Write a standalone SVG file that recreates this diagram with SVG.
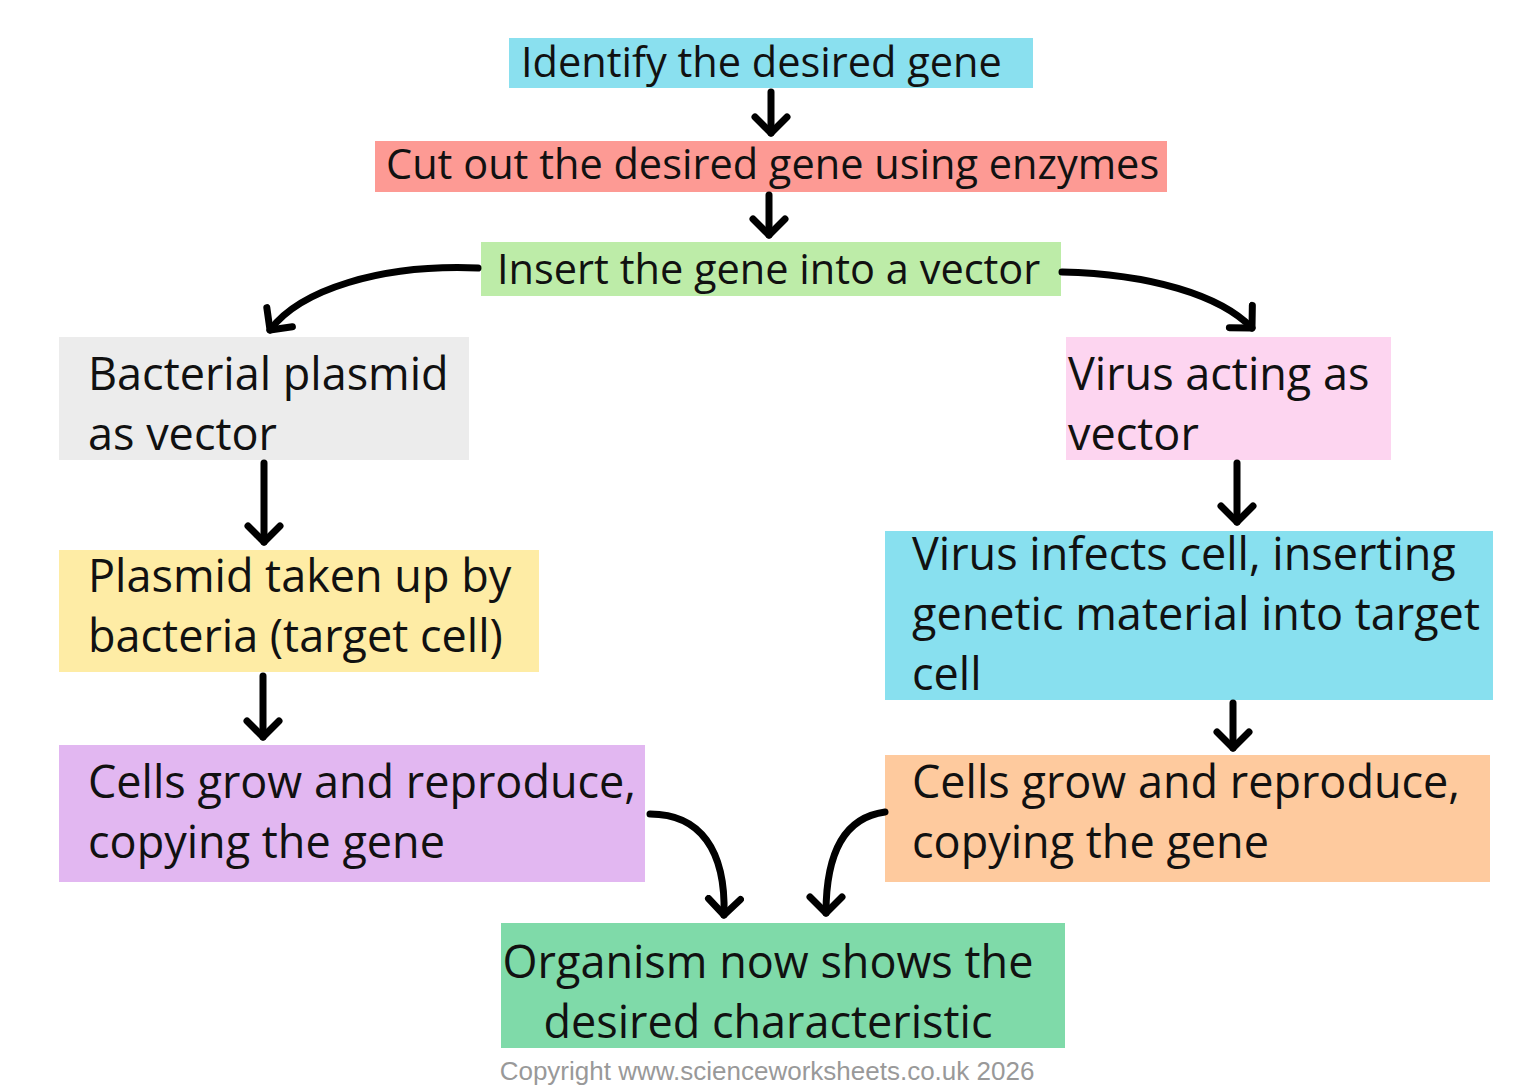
<svg xmlns="http://www.w3.org/2000/svg" width="1536" height="1086" viewBox="0 0 1536 1086">
<defs>
<style>
.t{font-family:"Open Sans","Noto Sans",sans-serif;font-size:41.5px;fill:#111}
.u{font-family:"Open Sans","Noto Sans",sans-serif;font-size:45px;fill:#111}
.c{fill:none;stroke:#000;stroke-width:7;stroke-linecap:round}
</style>
<marker id="a" markerUnits="userSpaceOnUse" markerWidth="40" markerHeight="40" refX="20" refY="20" orient="auto" viewBox="0 0 40 40">
<path d="M4,4 L20,20 L4,36" fill="none" stroke="#000" stroke-width="7" stroke-linecap="round" stroke-linejoin="round"/>
</marker>
</defs>
<rect width="1536" height="1086" fill="#fff"/>
<g id="n1"><rect x="509" y="38" width="524" height="50" fill="#8ae0ef"/><text class="t" x="521" y="77">Identify the desired gene</text></g>
<g id="n2"><rect x="375" y="141" width="792" height="51" fill="#fd9a94"/><text class="t" x="386" y="179">Cut out the desired gene using enzymes</text></g>
<g id="n3"><rect x="481" y="242" width="580" height="54" fill="#bdeca8"/><text class="t" x="497" y="284">Insert the gene into a vector</text></g>
<g id="n4"><rect x="59" y="337" width="410" height="123" fill="#ececec"/><text class="u" x="88" y="390">Bacterial plasmid</text><text class="u" x="88" y="450">as vector</text></g>
<g id="n5"><rect x="1066" y="337" width="325" height="123" fill="#fdd5f0"/><text class="u" x="1068" y="390">Virus acting as</text><text class="u" x="1068" y="450">vector</text></g>
<g id="n6"><rect x="59" y="550" width="480" height="122" fill="#feeca5"/><text class="u" x="88" y="592">Plasmid taken up by</text><text class="u" x="88" y="652">bacteria (target cell)</text></g>
<g id="n7"><rect x="885" y="531" width="608" height="169" fill="#88e0ef"/><text class="u" x="912" y="570">Virus infects cell, inserting</text><text class="u" x="912" y="630">genetic material into target</text><text class="u" x="912" y="690">cell</text></g>
<g id="n8"><rect x="59" y="745" width="586" height="137" fill="#e2b7f1"/><text class="u" x="88" y="798">Cells grow and reproduce,</text><text class="u" x="88" y="858">copying the gene</text></g>
<g id="n9"><rect x="885" y="755" width="605" height="127" fill="#feca9e"/><text class="u" x="912" y="798">Cells grow and reproduce,</text><text class="u" x="912" y="858">copying the gene</text></g>
<g id="n10"><rect x="501" y="923" width="564" height="125" fill="#7fdaa9"/><text class="u" x="768" y="978" text-anchor="middle">Organism now shows the</text><text class="u" x="768" y="1038" text-anchor="middle">desired characteristic</text></g>
<g id="connectors">
<path class="c" d="M771,92 L771,133" marker-end="url(#a)"/>
<path class="c" d="M769,195 L769,235" marker-end="url(#a)"/>
<path class="c" d="M264,463 L264,542" marker-end="url(#a)"/>
<path class="c" d="M263,676 L263,737" marker-end="url(#a)"/>
<path class="c" d="M1237,463 L1237,522" marker-end="url(#a)"/>
<path class="c" d="M1233,703 L1233,748" marker-end="url(#a)"/>
<path class="c" d="M478,268 C380,264 300,290 270,330" marker-end="url(#a)"/>
<path class="c" d="M1062,272 C1150,274 1220,295 1252,328" marker-end="url(#a)"/>
<path class="c" d="M650,814 C700,814 726,850 724,915" marker-end="url(#a)"/>
<path class="c" d="M885,812 C840,818 826,860 826,913" marker-end="url(#a)"/>
</g>
<text x="767" y="1080" text-anchor="middle" font-family="Liberation Sans,Arial,sans-serif" font-size="26" fill="#999">Copyright www.scienceworksheets.co.uk 2026</text>
</svg>
